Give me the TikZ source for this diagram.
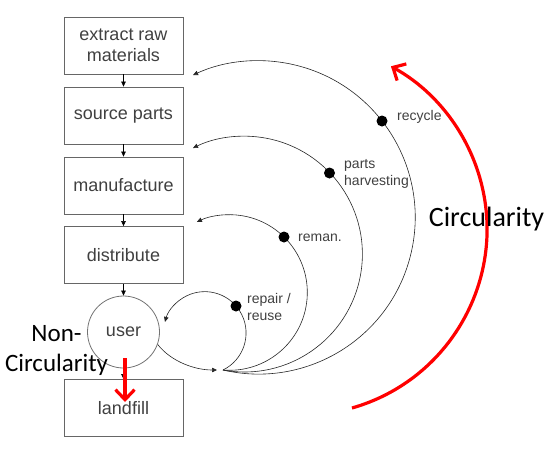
\documentclass[tikz,border=0pt]{standalone}
\usepackage{fontspec}
\setmainfont{Liberation Sans}
\newfontfamily\calfont{Carlito}
\usetikzlibrary{arrows.meta}
\tikzset{
  box/.style={draw=black!60, line width=0.8pt, minimum width=119pt, minimum height=57pt,
    align=center, text=black!75, font=\fontsize{18}{21}\selectfont, inner sep=0pt},
  usernode/.style={circle, draw=black!55, line width=0.8pt, minimum size=72pt,
    text=black!75, font=\fontsize{18}{21}\selectfont, inner sep=0pt},
  smallarrow/.style={black, line width=0.6pt, -{Triangle[length=5pt,width=4.5pt]}},
  arcline/.style={black!85, line width=0.6pt, -{Triangle[length=5pt,width=4.5pt]}},
  dot/.style={circle, fill=black, minimum size=11pt, inner sep=0pt},
  lbl/.style={anchor=west, inner sep=0pt, align=left, text=black!75,
    font=\fontsize{14}{17}\selectfont},
  redarrow/.style={red, line width=3.2pt, -{Straight Barb[length=10pt,width=19pt]}},
  bigtext/.style={inner sep=0pt, align=center, font=\calfont\fontsize{25}{30}\selectfont}
}
\begin{document}
\begin{tikzpicture}[x=1pt,y=1pt]
\useasboundingbox (0,0) rectangle (551,-450);
% boxes
\node[box] (b1) at (123.5,-45.5) {extract raw\\materials};
\node[box] (b2) at (123.5,-115.5) {source parts};
\node[box] (b3) at (123.5,-185.5) {manufacture};
\node[box] (b4) at (123.5,-255) {distribute};
\node[usernode] (user) at (123.5,-332) {user};
\node[box] (land) at (123.5,-408) {landfill};
% chain
\draw[smallarrow] (b1) -- (b2);
\draw[smallarrow] (b2) -- (b3);
\draw[smallarrow] (b3) -- (b4);
\draw[smallarrow] (b4) -- (user);
\draw[smallarrow] (user) -- (land);
% hub
\coordinate (hub) at (223,-370);
\coordinate (ua) at (217,-370);
\draw[arcline] (user.-20) .. controls +(-52:22) and +(180:22) .. (ua);
% loops
\draw[arcline] (hub) arc[start angle=-63.8, end angle=164.5, radius=41.3];
\draw[arcline] (hub) arc[start angle=-94.8, end angle=114.75, radius=77.8];
\draw[arcline] (hub) arc[start angle=-100.5, end angle=115.9, radius=117.9];
\draw[arcline] (hub) arc[start angle=-103.1, end angle=114.7, radius=156.7];
% dots
\node[dot] (d1) at (236,-306) {};
\node[dot] (d2) at (284,-237) {};
\node[dot] (d3) at (329.5,-173) {};
\node[dot] (d4) at (382,-121) {};
% labels
\node[lbl] (l1) at (247,-306.5) {repair /\\reuse};
\node[lbl] (l2) at (298,-237.5) {reman.};
\node[lbl] (l3) at (344,-173.5) {parts\\harvesting};
\node[lbl] (l4) at (397,-117) {recycle};
% red arrows
\coordinate (ra) at (352,-408);
\draw[redarrow] (ra) arc[start angle=-74.1, end angle=61.1, radius=186];
\coordinate (rd1) at (125,-358);
\coordinate (rd2) at (125,-402);
\draw[redarrow] (rd1) -- (rd2);
% texts
\node[bigtext] (circ) at (486.5,-219) {\fontsize{28}{30}\selectfont Circularity};
\node[bigtext] (noncirc) at (56.5,-350) {Non-\\Circularity};
\end{tikzpicture}
\end{document}
